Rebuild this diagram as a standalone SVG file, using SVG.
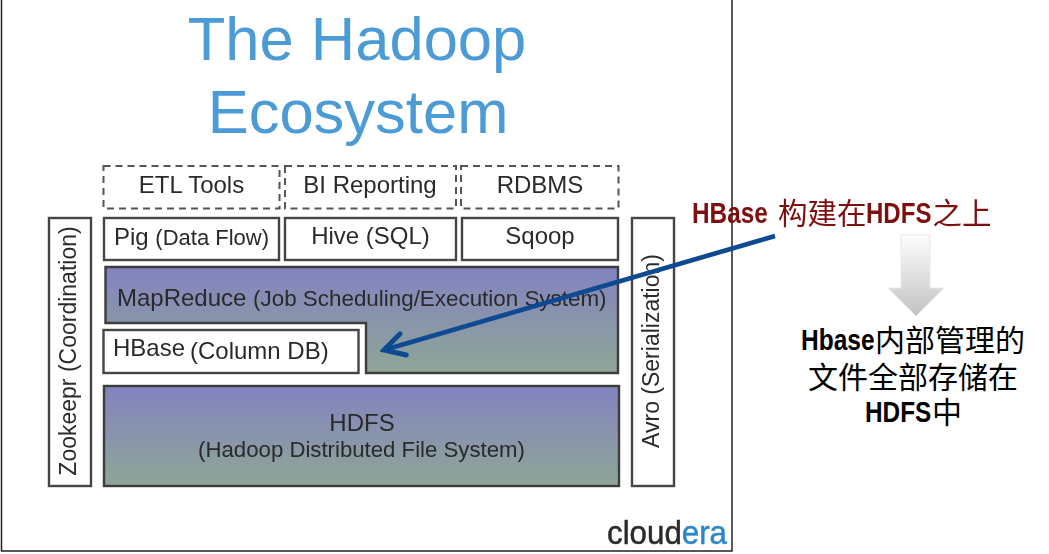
<svg xmlns="http://www.w3.org/2000/svg" width="1049" height="554" viewBox="0 0 1049 554">
<style>
text{font-family:"Liberation Sans","Noto Sans CJK SC",sans-serif;fill:#2a2a2a}
.c{text-anchor:middle}
.l{font-size:24px}
.box{fill:#fff;stroke:#444;stroke-width:2.4}
.dash{fill:#fff;stroke:#555;stroke-width:2;stroke-dasharray:7 5}
.grad{fill:url(#g);stroke:#3c3c3c;stroke-width:2.4}
.lat{font-weight:bold;font-size:29px;fill:#000}
.cjk{font-size:30px;fill:#000}
.red{fill:#7f0f0f}
.title{font-size:61.500px;fill:#4b9bd6}
</style>
<defs>
<linearGradient id="g" x1="0" y1="0" x2="0" y2="1"><stop offset="0" stop-color="#8383c0"/><stop offset="1" stop-color="#8ea696"/></linearGradient>
<linearGradient id="ga" x1="0" y1="0" x2="0" y2="1"><stop offset="0" stop-color="#fdfdfd"/><stop offset="1" stop-color="#c2c2c2"/></linearGradient>
<filter id="soft" filterUnits="userSpaceOnUse" x="0" y="0" width="1049" height="554"><feGaussianBlur stdDeviation="0.45"/></filter>
<marker id="ah" markerUnits="userSpaceOnUse" markerWidth="34" markerHeight="34" refX="30" refY="17" orient="auto"><path d="M10 6 L30 17 L10 28" fill="none" stroke="#0d4a92" stroke-width="5" stroke-linecap="round" stroke-linejoin="miter"/></marker>
</defs>
<rect x="0" y="0" width="1049" height="554" fill="#fff"/>
<rect id="frame" x="1.500" y="-2" width="730.500" height="553" fill="#fff" stroke="#222" stroke-width="1.500"/>
<g id="diagram" filter="url(#soft)">
<g id="title"><text class="title c" x="357" y="60">The Hadoop</text><text class="title c" x="358" y="133">Ecosystem</text></g>
<g id="etl"><rect class="dash" x="103.500" y="166" width="176" height="42.500"/><text class="l c" x="191.500" y="193">ETL Tools</text></g>
<g id="bi"><rect class="dash" x="285" y="166" width="171" height="42.500"/><text class="l c" x="370" y="193">BI Reporting</text></g>
<g id="rdbms"><rect class="dash" x="461" y="166" width="157.500" height="42.500"/><text class="l c" x="540" y="193">RDBMS</text></g>
<g id="pig"><rect class="box" x="104" y="218" width="175" height="42"/><text x="114" y="245" font-size="24">Pig <tspan font-size="22">(Data Flow)</tspan></text></g>
<g id="hive"><rect class="box" x="285" y="218" width="171" height="42"/><text class="l c" x="370.500" y="244">Hive (SQL)</text></g>
<g id="sqoop"><rect class="box" x="462" y="218" width="156" height="42"/><text class="l c" x="540" y="244">Sqoop</text></g>
<g id="mapreduce"><path class="grad" d="M105.500 267 H618 V373 H366 V323 H105.500 Z"/><text x="117" y="306" font-size="24">MapReduce <tspan font-size="22.400">(Job Scheduling/Execution System)</tspan></text></g>
<g id="hbase"><rect class="box" x="103.500" y="330" width="255" height="43"/><text x="113" y="356" font-size="24">HBase</text><text x="190" y="359" font-size="24">(Column DB)</text></g>
<g id="hdfs"><rect class="grad" x="104" y="386" width="515" height="100"/><text class="l c" x="362" y="431">HDFS</text><text class="c" x="361.500" y="457" font-size="22.200">(Hadoop Distributed File System)</text></g>
<g id="zookeeper"><rect class="box" x="49" y="218" width="42" height="268"/><text class="l c" style="font-size:23px" transform="translate(76 351) rotate(-90)">Zookeepr (Coordination)</text></g>
<g id="avro"><rect class="box" x="632" y="218" width="42" height="268"/><text class="l c" style="font-size:23px" transform="translate(659 351) rotate(-90)">Avro (Serialization)</text></g>
<g id="cloudera"><text x="607" y="544" font-size="33" style="fill:#2b2b2b;stroke:#2b2b2b;stroke-width:.5" textLength="120" lengthAdjust="spacingAndGlyphs">cloud<tspan style="fill:#2f86c8;stroke:#2f86c8">era</tspan></text></g>
</g>
<g id="connectors"><line x1="775" y1="236" x2="384" y2="350" stroke="#0d4a92" stroke-width="4.500" marker-end="url(#ah)"/></g>
<g id="note1">
<text class="lat red" transform="translate(692 222.500) scale(.84 1)">HBase</text>
<text class="cjk red" x="778" y="224" style="font-size:29.500px">构建在</text>
<text class="lat red" transform="translate(866 222.500) scale(.83 1)">HDFS</text>
<text class="cjk red" x="932.500" y="224" style="font-size:29.500px">之上</text>
</g>
<g id="down-arrow"><path d="M901 235 H930 V288 H944 L916 316 L888 288 H901 Z" fill="url(#ga)" stroke="#e8e8e8"/></g>
<g id="note2">
<text class="lat" transform="translate(801 349.500) scale(.845 1)">Hbase</text>
<text class="cjk" x="875" y="351">内部管理的</text>
<text class="cjk" x="808" y="388">文件全部存储在</text>
<text class="lat" transform="translate(865 422) scale(.84 1)">HDFS</text>
<text class="cjk" x="932" y="423">中</text>
</g>
</svg>
